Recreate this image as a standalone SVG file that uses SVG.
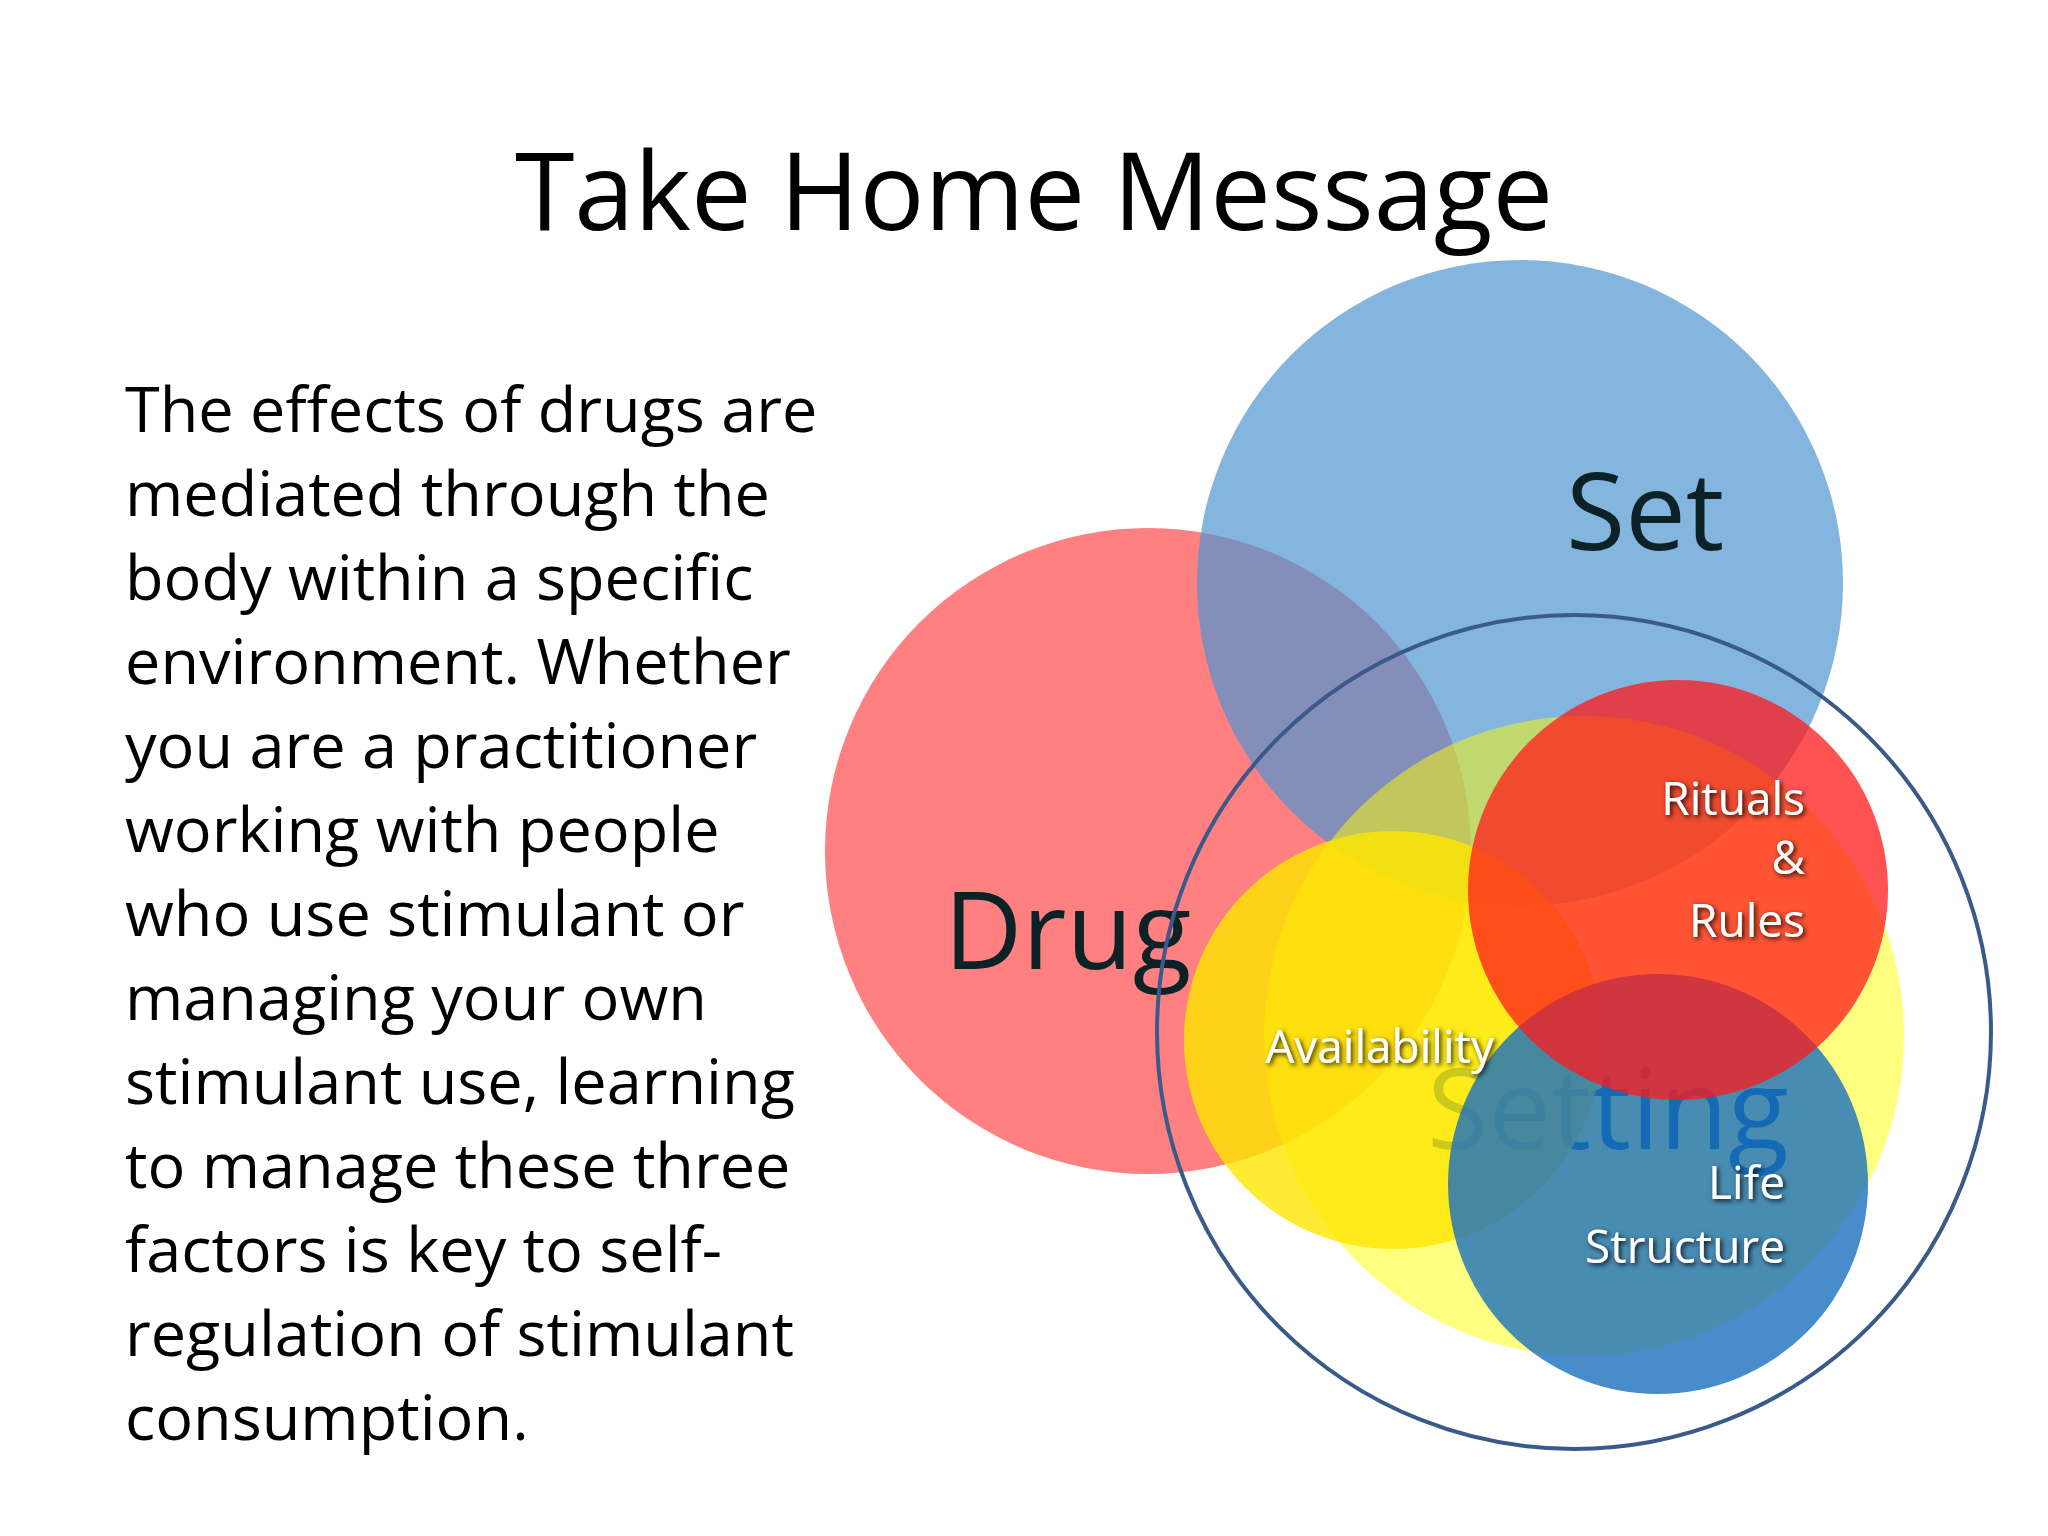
<svg xmlns="http://www.w3.org/2000/svg" width="2048" height="1536" viewBox="0 0 2048 1536">
<defs>
<filter id="sh" x="-20%" y="-40%" width="140%" height="180%"><feDropShadow dx="2" dy="2" stdDeviation="2.5" flood-color="#000" flood-opacity="0.9"/></filter>
</defs>
<style>
text{font-family:"Open Sans","Liberation Sans",sans-serif}
.body{font-size:63px;fill:#000}
.big{font-size:108px;fill:#0d2226}
.lbl{font-size:46px;fill:#fff;filter:url(#sh);text-anchor:end}
</style>
<rect width="2048" height="1536" fill="#fff"/>
<text x="1034" y="230" font-size="108" text-anchor="middle" fill="#000">Take Home Message</text>
<g id="body-text" class="body">
<text x="125" y="432">The effects of drugs are</text>
<text x="125" y="516">mediated through the</text>
<text x="125" y="600">body within a specific</text>
<text x="125" y="684">environment. Whether</text>
<text x="125" y="768">you are a practitioner</text>
<text x="125" y="852">working with people</text>
<text x="125" y="936">who use stimulant or</text>
<text x="125" y="1020">managing your own</text>
<text x="125" y="1104">stimulant use, learning</text>
<text x="125" y="1188">to manage these three</text>
<text x="125" y="1272">factors is key to self-</text>
<text x="125" y="1356">regulation of stimulant</text>
<text x="125" y="1440">consumption.</text>
</g>
<g transform="translate(-14,-4)">
<g id="drug"><circle cx="1162" cy="855" r="323" fill="#ff8080"/><text class="big" x="958" y="973">Drug</text></g>
<g id="set"><circle cx="1534" cy="587" r="323" fill="#4f96d2" fill-opacity="0.7"/><text class="big" x="1580" y="554">Set</text></g>
</g>
<g transform="translate(-4,0)">
<g id="setting"><circle cx="1588" cy="1036" r="320" fill="#ffff00" fill-opacity="0.5"/><text x="1431" y="1149" font-size="112" fill="#00588f">Setting</text></g>
<g id="availability"><circle cx="1397" cy="1040" r="209" fill="#ffe600" fill-opacity="0.8"/></g>
<g id="life"><circle cx="1662" cy="1184" r="210" fill="#1a6fbf" fill-opacity="0.8"/></g>
<g id="rituals"><circle cx="1682" cy="890" r="210" fill="#ff1a1a" fill-opacity="0.75"/></g>
<g id="outline"><circle cx="1578" cy="1032" r="417" fill="none" stroke="#3a5a8a" stroke-width="4"/></g>
<g id="labels">
<text class="lbl" x="1809" y="815">Rituals</text>
<text class="lbl" x="1809" y="874">&amp;</text>
<text class="lbl" x="1809" y="937">Rules</text>
<text class="lbl" x="1498" y="1063">Availability</text>
<text class="lbl" x="1789" y="1199">Life</text>
<text class="lbl" x="1789" y="1263">Structure</text>
</g>
</g>
<g id="connectors"/>
</svg>
